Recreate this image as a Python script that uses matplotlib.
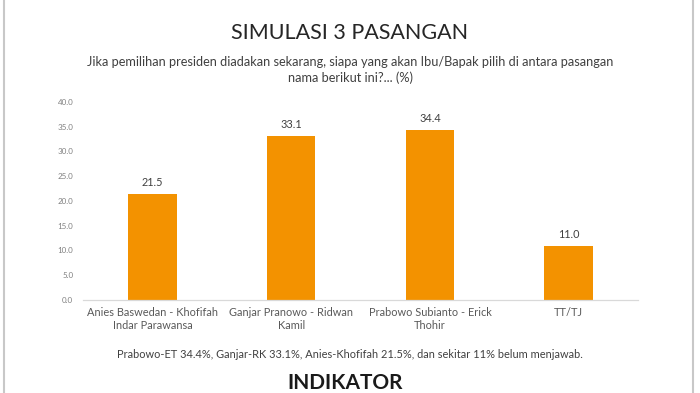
import matplotlib
matplotlib.use("Agg")
from matplotlib import pyplot as plt
from matplotlib.lines import Line2D

plt.rcParams['font.family'] = ['Lato', 'DejaVu Sans']

categories = ['Anies Baswedan - Khofifah\nIndar Parawansa',
              'Ganjar Pranowo - Ridwan\nKamil',
              'Prabowo Subianto - Erick\nThohir',
              'TT/TJ']
values = [21.5, 33.1, 34.4, 11.0]
yticks = [0, 5, 10, 15, 20, 25, 30, 35, 40]

title = 'SIMULASI 3 PASANGAN'
subtitle = ('Jika pemilihan presiden diadakan sekarang, siapa yang akan Ibu/Bapak pilih di antara pasangan\n'
            'nama berikut ini?... (%)')
footnote = 'Prabowo-ET 34.4%, Ganjar-RK 33.1%, Anies-Khofifah 21.5%, dan sekitar 11% belum menjawab.'

bar_color = '#F39200'

fig = plt.figure(figsize=(7, 3.93), dpi=100)
ax = fig.add_axes([0.1186, 0.2366, 0.793, 0.504])

x = range(len(values))
bars = ax.bar(x, values, width=0.35, color=bar_color, zorder=2)
for xi, v in zip(x, values):
    ax.text(xi, v + 1.2, f'{v:.1f}', ha='center', va='bottom', fontsize=7.8, color='#404040')

ax.set_xlim(-0.5, 3.5)
ax.set_ylim(0, 40)
ax.set_yticks(yticks)
ax.set_yticklabels([f'{t:.1f}' for t in yticks], fontsize=5.8, color='#808080')
ax.set_xticks(list(x))
ax.set_xticklabels(categories, fontsize=7.9, color='#595959', linespacing=1.2)
ax.tick_params(axis='both', length=0)
ax.tick_params(axis='y', pad=7)
ax.tick_params(axis='x', pad=5)
for s in ['top', 'right', 'left']:
    ax.spines[s].set_visible(False)
ax.spines['bottom'].set_color('#d9d9d9')
ax.spines['bottom'].set_linewidth(0.9)

fig.text(0.5, 1 - 33 / 393, title, ha='center', va='center', fontsize=15.5, color='#262626')
fig.text(0.5, 1 - 70 / 393, subtitle, ha='center', va='center', fontsize=9.2, color='#404040',
         linespacing=1.3)
fig.text(0.5, 1 - 355 / 393, footnote, ha='center', va='center', fontsize=7.9, color='#404040')
fig.text(345 / 700, 1 - 383 / 393, 'INDIKATOR', ha='center', va='center', fontsize=15,
         fontweight='bold', color='#1a1a1a')

# side borders of the slide
fig.add_artist(Line2D([4 / 700, 4 / 700], [0, 1], transform=fig.transFigure, color='#c8c8c8', lw=1.5))
fig.add_artist(Line2D([693 / 700, 693 / 700], [0, 1], transform=fig.transFigure, color='#c8c8c8', lw=1.5))

fig.savefig('out.png', dpi=100)
